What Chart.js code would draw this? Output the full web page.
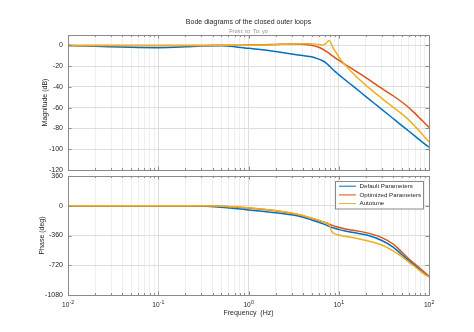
<!DOCTYPE html>
<html>
<head>
<meta charset="utf-8">
<title>Bode diagrams of the closed outer loops</title>
<script src="https://cdn.jsdelivr.net/npm/chart.js@4.4.0/dist/chart.umd.min.js"></script>
<style>
  html, body { margin: 0; padding: 0; background: #fff; }
  #wrap { position: relative; width: 474px; height: 332px; }
  #wrap canvas { position: absolute; left: 0; top: 0; }
</style>
</head>
<body>
<div id="wrap">
  <canvas id="chartMag" width="474" height="332"></canvas>
  <canvas id="chartPhase" width="474" height="332"></canvas>
</div>
<script>
// ---- data (Hz, dB, deg) ----
const freq = [0.01, 0.02, 0.05, 0.1, 0.2, 0.3, 0.5, 0.7, 1, 1.5, 2, 3, 4, 5, 6, 6.6, 7.2, 7.8, 8.2, 8.6, 9.3, 10, 11.5, 15, 20, 30, 40, 50, 60, 70, 80, 90, 100];

const magDefault   = [-0.2, -0.9, -1.9, -2.2, -1.4, -0.6, -0.4, -1.2, -2.8, -4.5, -6, -8.3, -9.8, -11, -13.2, -14.8, -16.8, -19.5, -21.5, -23.2, -25.8, -28.2, -32.5, -40.5, -49.3, -61.6, -70.4, -77.2, -82.7, -87.4, -91.5, -95, -98];
const magOptimized = [0, 0, 0, 0, 0, 0, 0.1, 0.2, 0.3, 0.6, 0.9, 1.3, 1.1, 0.2, -1.8, -3.5, -5.5, -7.5, -9, -10.4, -12.5, -14.3, -17.8, -24, -31, -41.5, -48.5, -54.5, -60, -65.5, -70.5, -75, -79];
const magAutotune  = [0, 0, 0, 0, 0, 0, 0, 0.1, 0.2, 0.3, 0.7, 1.4, 1.6, 1.5, 0.8, 0.3, 1.8, 4.7, 2.2, -2, -6.5, -11, -17.8, -28.5, -38.5, -51, -59.5, -66, -72, -78, -83.5, -88.5, -93];

const phaseDefault   = [0, 0, 0, 0, -1, -4, -18, -32, -50, -70, -84, -110, -140, -172, -200, -216, -232, -249, -258, -267, -278, -287, -303, -327, -352, -420, -500, -590, -665, -725, -780, -825, -862];
const phaseOptimized = [0, 0, 0, 0, 0, -1, -6, -14, -26, -44, -60, -90, -120, -152, -178, -193, -207, -222, -232, -240, -252, -261, -278, -300, -325, -385, -463, -560, -645, -705, -760, -808, -852];
const phaseAutotune  = [0, 0, 0, 0, 0, -1, -5, -13, -24, -42, -58, -88, -118, -150, -176, -191, -205, -222, -290, -326, -344, -355, -368, -390, -420, -475, -545, -615, -685, -738, -790, -832, -860];

const seriesNames  = ["Default Parameters", "Optimized Parameters", "Autotune"];
const seriesColors = ["#0072BD", "#D95319", "#EDB120"];

const magTicks    = [-120, -100, -80, -60, -40, -20, 0];
const phaseTicks  = [-1080, -720, -360, 0, 360];
const decadeTicks = [0.01, 0.1, 1, 10, 100];
const decadeExps  = ["-2", "-1", "0", "1", "2"];

// log minor ticks 1..9 per decade
const freqTicks = [];
decadeTicks.slice(0, -1).forEach(d => { for (let k = 1; k <= 9; k++) freqTicks.push(+(k * d).toPrecision(3)); });
freqTicks.push(100);

const isDecade = v => Math.abs(Math.log10(v) - Math.round(Math.log10(v))) < 1e-9;
const pts = arr => freq.map((f, i) => ({ x: f, y: arr[i] }));

const FONT = '"Liberation Sans", Arial, "DejaVu Sans", sans-serif';
Chart.defaults.font.family = FONT;
Chart.defaults.color = "#262626";

const GRID_MAJOR = "#dedede", GRID_MINOR = "#efefef", FRAME = "#8a8a8a";

// MATLAB-like box with inward ticks
const axesBox = {
  id: "axesBox",
  afterDraw(chart) {
    const { ctx, chartArea: a, scales: { x, y } } = chart;
    ctx.save();
    ctx.strokeStyle = FRAME;
    ctx.lineWidth = 1;
    ctx.beginPath();
    x.ticks.forEach(t => {
      const px = Math.round(x.getPixelForValue(t.value)) + 0.5;
      const len = isDecade(t.value) ? 3.5 : 2;
      ctx.moveTo(px, a.top); ctx.lineTo(px, a.top + len);
      ctx.moveTo(px, a.bottom); ctx.lineTo(px, a.bottom - len);
    });
    y.ticks.forEach(t => {
      const py = Math.round(y.getPixelForValue(t.value)) + 0.5;
      ctx.moveTo(a.left, py); ctx.lineTo(a.left + 3.5, py);
      ctx.moveTo(a.right, py); ctx.lineTo(a.right - 3.5, py);
    });
    ctx.stroke();
    ctx.strokeRect(Math.round(a.left) + 0.5, Math.round(a.top) + 0.5, Math.round(a.right - a.left), Math.round(a.bottom - a.top));
    ctx.restore();
  }
};

// 10^n tick labels with a raised exponent
const powerLabels = {
  id: "powerLabels",
  afterDraw(chart) {
    const { ctx, chartArea: a, scales: { x } } = chart;
    ctx.save();
    ctx.fillStyle = "#262626";
    ctx.textBaseline = "alphabetic";
    ctx.textAlign = "left";
    decadeTicks.forEach((d, i) => {
      ctx.font = "6.6px " + FONT;
      const wb = ctx.measureText("10").width;
      ctx.font = "5.2px " + FONT;
      const we = ctx.measureText(decadeExps[i]).width;
      const left = x.getPixelForValue(d) - (wb + we) / 2;
      ctx.font = "6.6px " + FONT;
      ctx.fillText("10", left, a.bottom + 12.4);
      ctx.font = "5.2px " + FONT;
      ctx.fillText(decadeExps[i], left + wb + 0.2, a.bottom + 8.8);
    });
    ctx.restore();
  }
};

// legend box in the upper right of the phase axes
const boxLegend = {
  id: "boxLegend",
  afterDraw(chart) {
    const { ctx, chartArea: a } = chart;
    const w = 88, h = 27.5, x0 = a.right - 6 - w, y0 = a.top + 5;
    ctx.save();
    ctx.fillStyle = "#fff";
    ctx.fillRect(x0, y0, w, h);
    ctx.strokeStyle = FRAME;
    ctx.lineWidth = 1;
    ctx.strokeRect(Math.round(x0) + 0.5, Math.round(y0) + 0.5, w, h);
    ctx.font = "6.2px " + FONT;
    ctx.textBaseline = "middle";
    ctx.fillStyle = "#262626";
    chart.data.datasets.forEach((ds, i) => {
      const cy = y0 + 5.2 + i * 8.7;
      ctx.strokeStyle = ds.borderColor;
      ctx.lineWidth = 1;
      ctx.beginPath(); ctx.moveTo(x0 + 4, cy); ctx.lineTo(x0 + 21, cy); ctx.stroke();
      ctx.fillText(ds.label, x0 + 24.5, cy);
    });
    ctx.restore();
  }
};

function datasets(arrs) {
  return arrs.map((arr, i) => ({
    label: seriesNames[i],
    data: pts(arr),
    borderColor: seriesColors[i],
    backgroundColor: seriesColors[i],
    borderWidth: 1.5,
    pointRadius: 0,
    cubicInterpolationMode: "monotone",
    order: 2 - i
  }));
}

function xScale(showLabels) {
  return {
    type: "logarithmic",
    min: 0.01, max: 100,
    afterBuildTicks: s => { s.ticks = freqTicks.map(v => ({ value: v })); },
    afterFit: s => { s.height = showLabels ? 22.5 : 0; },
    border: { display: false },
    grid: { drawTicks: false, color: c => isDecade(c.tick.value) ? GRID_MAJOR : GRID_MINOR, lineWidth: 1 },
    ticks: { display: false, autoSkip: false, maxRotation: 0, minRotation: 0 },
    title: { display: showLabels, text: "Frequency  (Hz)", font: { size: 7 }, padding: 0 }
  };
}

function yScale(min, max, ticks, label, width) {
  return {
    min, max,
    afterBuildTicks: s => { s.ticks = ticks.map(v => ({ value: v })); },
    afterFit: s => { s.width = width; },
    border: { display: false },
    grid: { drawTicks: false, color: GRID_MAJOR, lineWidth: 1 },
    ticks: { padding: 5, font: { size: 7 }, callback: v => String(v) },
    title: { display: true, text: label, font: { size: 7 }, padding: 0 }
  };
}

new Chart(document.getElementById("chartMag"), {
  type: "line",
  data: { datasets: datasets([magDefault, magOptimized, magAutotune]) },
  options: {
    responsive: false, animation: false, events: [],
    layout: { padding: { left: 40.8, right: 45, top: 18.1, bottom: 162 } },
    scales: { x: xScale(false), y: yScale(-120, 10, magTicks, "Magnitude (dB)", 27.2) },
    plugins: {
      legend: { display: false }, tooltip: { enabled: false },
      title: { display: true, fullSize: false, text: "Bode diagrams of the closed outer loops", font: { size: 7, weight: "normal" }, color: "#262626", padding: 0 },
      subtitle: { display: true, fullSize: false, text: "From: ro  To: yo", font: { size: 5.5 }, color: "#8c8c8c", padding: { top: 1.2, bottom: 0.7 } }
    }
  },
  plugins: [axesBox]
});

new Chart(document.getElementById("chartPhase"), {
  type: "line",
  data: { datasets: datasets([phaseDefault, phaseOptimized, phaseAutotune]) },
  options: {
    responsive: false, animation: false, events: [],
    layout: { padding: { left: 37.5, right: 45, top: 176, bottom: 14.5 } },
    scales: { x: xScale(true), y: yScale(-1080, 360, phaseTicks, "Phase (deg)", 30.5) },
    plugins: { legend: { display: false }, tooltip: { enabled: false } }
  },
  plugins: [axesBox, powerLabels, boxLegend]
});
</script>
</body>
</html>
